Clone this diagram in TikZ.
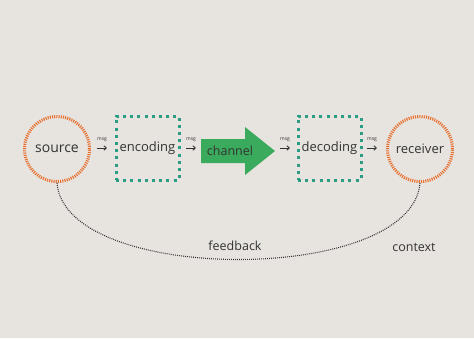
\documentclass[tikz,border=0pt]{standalone}
\usepackage{fontspec}
\setmainfont{Open Sans}
\usetikzlibrary{arrows.meta}
\definecolor{bg}{HTML}{E7E3DF}
\definecolor{orng}{HTML}{E8702F}
\definecolor{teal}{HTML}{2A9C84}
\definecolor{grn}{HTML}{3AAA5C}
\definecolor{txt}{HTML}{333333}
\tikzset{
  circ/.style={circle, draw=orng, line width=3pt, dash pattern=on 1.1pt off 1.1pt, minimum size=65pt, inner sep=0pt, text=txt, font=\fontsize{13}{15}\selectfont},
  sqbox/.style={rectangle, draw=teal, line width=3pt, dash pattern=on 3pt off 4.2pt, minimum width=63pt, minimum height=64pt, inner sep=0pt, text=txt, font=\fontsize{13}{15}\selectfont},
  msgarrow/.style={-{Straight Barb[length=2.5pt,width=4.5pt]}, line width=0.9pt, draw=txt},
  msglabel/.style={font=\fontsize{5}{6}\selectfont, text=txt, inner sep=0pt},
  lbl/.style={text=txt, font=\fontsize{12.5}{14}\selectfont, inner sep=0pt}
}
\begin{document}
\begin{tikzpicture}[x=1pt,y=-1pt]
\fill[bg] (0,0) rectangle (474,338);
\useasboundingbox (0,0) rectangle (474,338);
\node[circ, font=\fontsize{14}{16}\selectfont] (src) at (57,149) {source};
\node[sqbox] (enc) at (147.5,148) {encoding};
\node[sqbox] (dec) at (329.5,148) {decoding};
\node[circ] (rcv) at (420,149) {receiver};
% channel arrow
\fill[grn] (201,139) -- (245,139) -- (245,127) -- (275,151) -- (245,175) -- (245,163) -- (201,163) -- cycle;
\node[lbl] (ch) at (230,151) {channel};
% msg arrows
\coordinate (m1a) at (97,148); \coordinate (m1b) at (107,148);
\coordinate (m2a) at (186,148); \coordinate (m2b) at (196,148);
\coordinate (m3a) at (280,148); \coordinate (m3b) at (290,148);
\coordinate (m4a) at (367,148); \coordinate (m4b) at (377,148);
\draw[msgarrow] (m1a) -- (m1b);
\draw[msgarrow] (m2a) -- (m2b);
\draw[msgarrow] (m3a) -- (m3b);
\draw[msgarrow] (m4a) -- (m4b);
\node[msglabel] (l1) at (102,140) {msg};
\node[msglabel] (l2) at (191,140) {msg};
\node[msglabel] (l3) at (285,140) {msg};
\node[msglabel] (l4) at (372,140) {msg};
% feedback
\draw[txt, line width=1.1pt, dash pattern=on 0.9pt off 1.1pt] (src.south) .. controls (65,285) and (412,285) .. (rcv.south);
\node[lbl] (fb) at (235,246) {feedback};
\node[lbl] (ctx) at (414,247) {context};
\end{tikzpicture}
\end{document}
